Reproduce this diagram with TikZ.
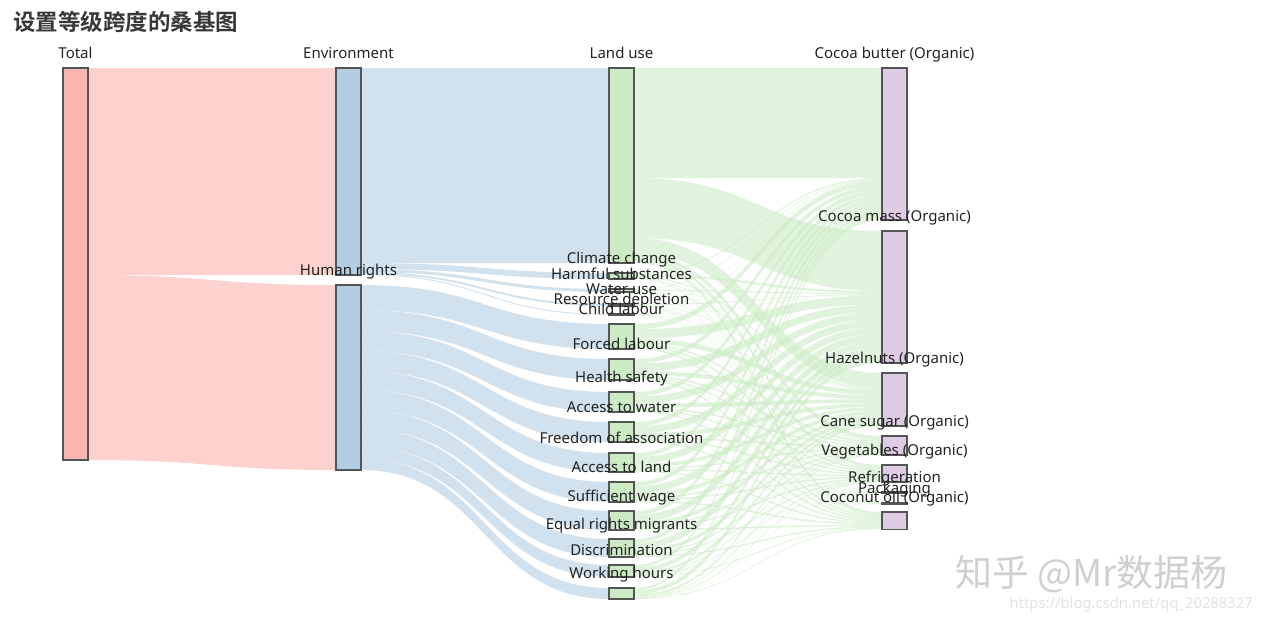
\documentclass[tikz,border=0pt]{standalone}
\usepackage{fontspec}
\setmainfont{Noto Sans}
\newfontfamily\cjk{Noto Sans CJK SC}[BoldFont={Noto Sans CJK SC Bold}]
\usetikzlibrary{calc}

\definecolor{totcol}{HTML}{FBB4AE}
\definecolor{envcol}{HTML}{B3CDE3}
\definecolor{usecol}{HTML}{CCEBC5}
\definecolor{prodcol}{HTML}{DECBE4}
\definecolor{nodeline}{HTML}{555555}
\definecolor{ink}{HTML}{222222}
\definecolor{mark}{HTML}{CFCFCF}

\pgfdeclarelayer{bg}
\pgfsetlayers{bg,main}

\tikzset{
  nbox/.style={draw=nodeline, line width=1.2pt, fill=#1, minimum width=25pt,
    inner sep=0pt, outer sep=0pt},
  lbl/.style={font=\fontsize{15}{18}\selectfont, text=ink, inner sep=0pt, anchor=base, yshift=10pt},
  band/.style={fill=#1, fill opacity=0.6}
}

% one column of boxes: x, colour, list name/top/height/text
\newcommand\sankeycol[3]{%
  \foreach \n/\y/\h/\t in {#3} {
    \node[nbox=#2, minimum height=\h pt, label={[lbl]above:\t}] (\n) at (#1,\y+\h/2) {};
    \expandafter\gdef\csname out@\n\endcsname{0}%
    \expandafter\gdef\csname in@\n\endcsname{0}%
  }%
}

% one band: source, target, width, colour
\newcommand\addflow[4]{%
  \pgfmathsetmacro\so{\csname out@#1\endcsname}%
  \pgfmathsetmacro\ti{\csname in@#2\endcsname}%
  \fill[band=#4] ($(#1.north east)+(0,\so)$)
    .. controls +(124,0) and +(-124,0) .. ($(#2.north west)+(0,\ti)$)
    -- ++(0,#3)
    .. controls +(-124,0) and +(124,0) .. ($(#1.north east)+(0,\so+#3)$) -- cycle;
  \pgfmathsetmacro\so{\so+#3}\expandafter\xdef\csname out@#1\endcsname{\so}%
  \pgfmathsetmacro\ti{\ti+#3}\expandafter\xdef\csname in@#2\endcsname{\ti}%
}

\begin{document}
\begin{tikzpicture}[x=1pt, y=-1pt]
\useasboundingbox (0,0) rectangle (1263,624);

\node[anchor=west, inner sep=0pt, text=ink!90,
  font=\cjk\bfseries\fontsize{22.5}{26}\selectfont] (title) at (13,22) {设置等级跨度的桑基图};

% boxes
\sankeycol{75.5}{totcol}{tot/68/392/Total}
\sankeycol{348.5}{envcol}{env/68/207/Environment, hum/285/185/Human rights}
\sankeycol{621.5}{usecol}{land/68/195/Land use, clim/273/6/Climate change,
  harm/289/3/Harmful substances, water/304/2/Water use, res/314/1/Resource depletion,
  child/324/25/Child labour, forced/359/21/Forced labour, health/392/20/Health safety,
  accw/422/20/Access to water, freedom/453/19/Freedom of association,
  accl/482/20/Access to land, wage/511/19/Sufficient wage,
  equal/539/18/Equal rights migrants, discr/565/12/Discrimination, hours/588/11/Working hours}
\sankeycol{894.5}{prodcol}{butter/68/152/Cocoa butter (Organic),
  mass/231/131.9/Cocoa mass (Organic), hazel/373/53/Hazelnuts (Organic),
  cane/436/19/Cane sugar (Organic), veg/465/17/Vegetables (Organic),
  refr/492/0.985/Refrigeration, pack/503/0.985/Packaging, coco/512/17.2/Coconut oil (Organic)}

% bands
\begin{pgfonlayer}{bg}
\addflow{tot}{env}{207}{totcol}
\addflow{tot}{hum}{185}{totcol}
\foreach \t/\w in {land/195, clim/6, harm/3, water/2, res/1}
  {\addflow{env}{\t}{\w}{envcol}}
\foreach \t/\w in {child/25, forced/21, health/20, accw/20, freedom/19,
    accl/20, wage/19, equal/18, discr/12, hours/11}
  {\addflow{hum}{\t}{\w}{envcol}}
\foreach \t/\w in {butter/110, mass/60, hazel/15, cane/4, veg/3, refr/0, pack/0, coco/3}
  {\addflow{land}{\t}{\w}{usecol}}
\foreach \s/\h in {clim/6, harm/3, water/2, res/1, child/25, forced/21, health/20,
    accw/20, freedom/19, accl/20, wage/19, equal/18, discr/12, hours/11}
  \foreach \t/\f in {butter/.213, mass/.365, hazel/.193, cane/.076, veg/.071,
      refr/.005, pack/.005, coco/.072}
    {\addflow{\s}{\t}{\h*\f}{usecol}}
\end{pgfonlayer}

% watermark
\node[anchor=west, inner sep=0pt, text=mark, font=\cjk\fontsize{37}{37}\selectfont] (wm) at (955,574) {知乎 @Mr数据杨};
\node[anchor=east, inner sep=0pt, text=mark!60, font=\fontsize{14.8}{15}\selectfont] (url) at (1253,605) {https://blog.csdn.net/qq\_20288327};
\end{tikzpicture}
\end{document}
